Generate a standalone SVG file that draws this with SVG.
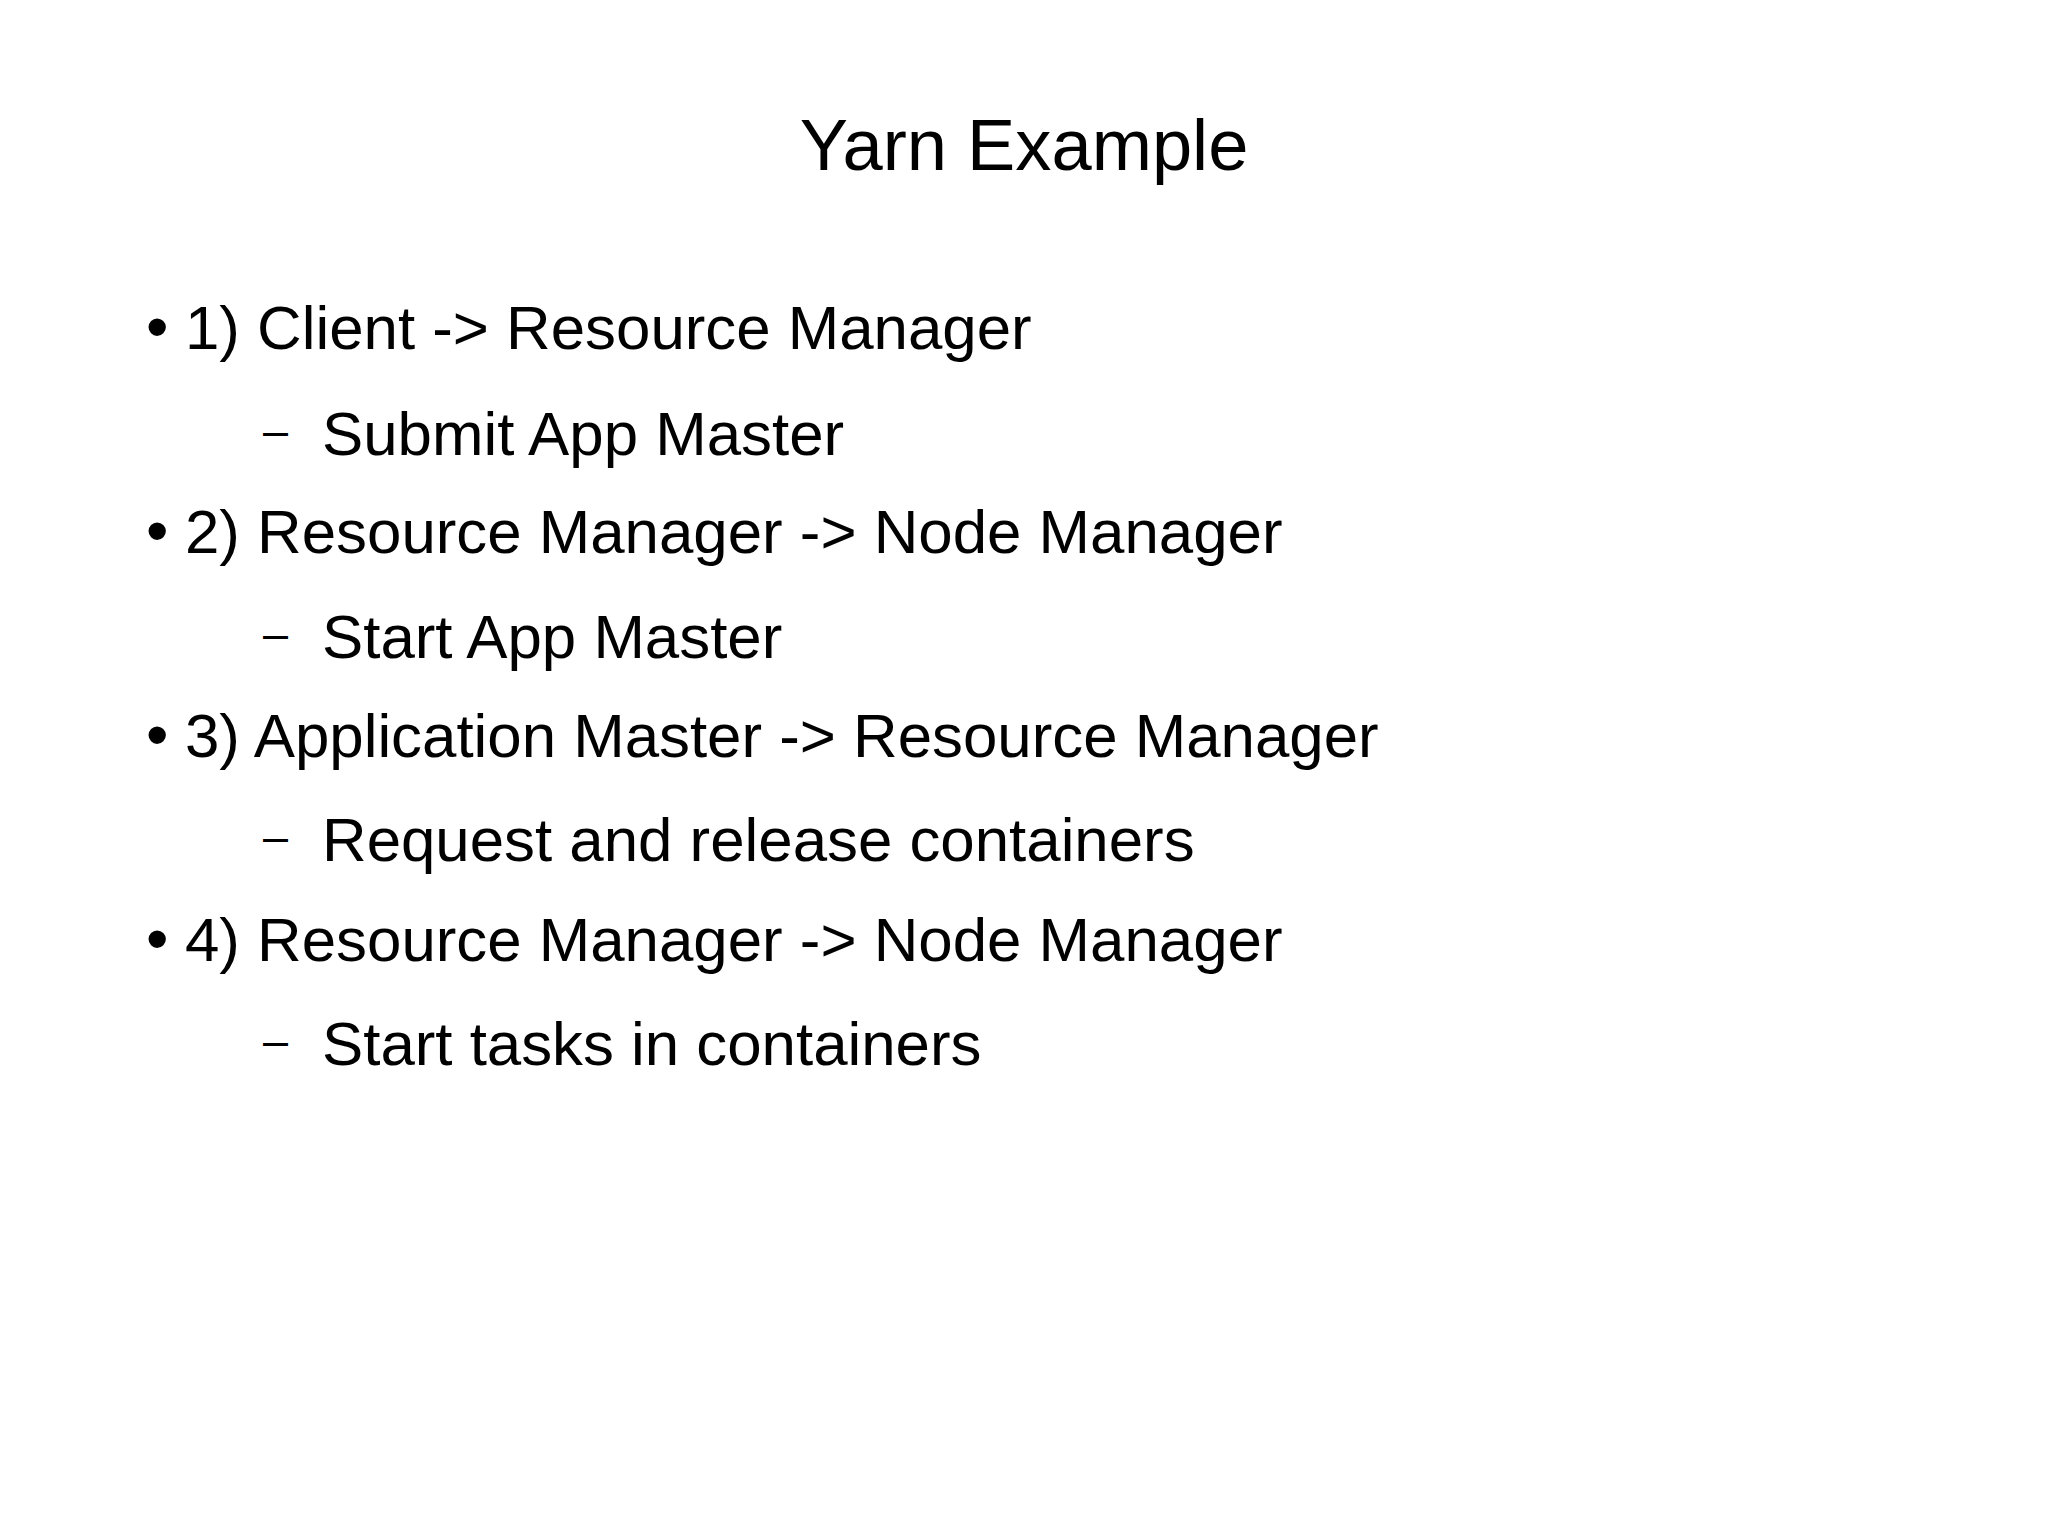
<svg xmlns="http://www.w3.org/2000/svg" width="2048" height="1535" viewBox="0 0 2048 1535">
  <style>
    text { font-family: "Liberation Sans", Arial, sans-serif; fill: #000000; }
    .title { font-size: 72.3px; text-anchor: middle; }
    .item { font-size: 61.8px; }
    .bullet { font-size: 64px; }
    .dash { font-size: 45px; }
  </style>
  <rect x="0" y="0" width="2048" height="1535" fill="#ffffff"/>
  <g id="title">
    <text class="title" x="1024" y="170">Yarn Example</text>
  </g>
  <g id="item1">
    <text class="bullet" x="146" y="349">•</text>
    <text class="item" x="185" y="349">1) Client -&gt; Resource Manager</text>
    <text class="dash" x="263" y="446">–</text>
    <text class="item" x="322" y="455">Submit App Master</text>
  </g>
  <g id="item2">
    <text class="bullet" x="146" y="553">•</text>
    <text class="item" x="185" y="553">2) Resource Manager -&gt; Node Manager</text>
    <text class="dash" x="263" y="649">–</text>
    <text class="item" x="322" y="658">Start App Master</text>
  </g>
  <g id="item3">
    <text class="bullet" x="146" y="757">•</text>
    <text class="item" x="185" y="757">3) Application Master -&gt; Resource Manager</text>
    <text class="dash" x="263" y="852">–</text>
    <text class="item" x="322" y="861">Request and release containers</text>
  </g>
  <g id="item4">
    <text class="bullet" x="146" y="961">•</text>
    <text class="item" x="185" y="961">4) Resource Manager -&gt; Node Manager</text>
    <text class="dash" x="263" y="1056">–</text>
    <text class="item" x="322" y="1065">Start tasks in containers</text>
  </g>
</svg>
